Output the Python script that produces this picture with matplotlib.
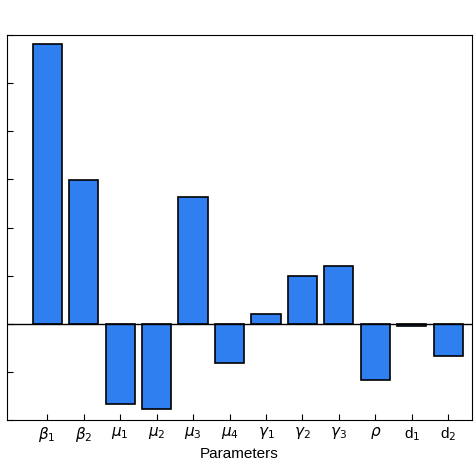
import matplotlib
matplotlib.use("Agg")
import matplotlib.pyplot as plt

labels = [r"$\beta_1$", r"$\beta_2$", r"$\mu_1$", r"$\mu_2$", r"$\mu_3$", r"$\mu_4$",
          r"$\gamma_1$", r"$\gamma_2$", r"$\gamma_3$", r"$\rho$", r"d$_1$", r"d$_2$"]
values = [0.582, 0.298, -0.166, -0.178, 0.263, -0.081, 0.021, 0.099, 0.120, -0.116, -0.004, -0.068]

plt.rcParams['font.family'] = ['Liberation Sans', 'DejaVu Sans']
plt.rcParams['mathtext.fontset'] = 'dejavusans'
fig = plt.figure(figsize=(4.74, 4.74), dpi=100)
ax = fig.add_axes([0.015, 0.114, 0.98, 0.812])
x = list(range(len(values)))
ax.bar(x, values, width=0.8, color='#2f7ff0', edgecolor='black', linewidth=1.2)
ax.axhline(0, color='black', linewidth=1)
ax.set_xlim(-1.1, 11.64)
ax.set_ylim(-0.2, 0.6)
ax.set_yticks([-0.2, -0.1, 0, 0.1, 0.2, 0.3, 0.4, 0.5, 0.6])
ax.set_yticklabels([])
ax.set_xticks(x)
ax.set_xticklabels(labels, fontsize=11)
ax.tick_params(direction='in', length=4)
ax.set_xlabel("Parameters", fontsize=11, labelpad=2)
fig.savefig("out.png", dpi=100)
